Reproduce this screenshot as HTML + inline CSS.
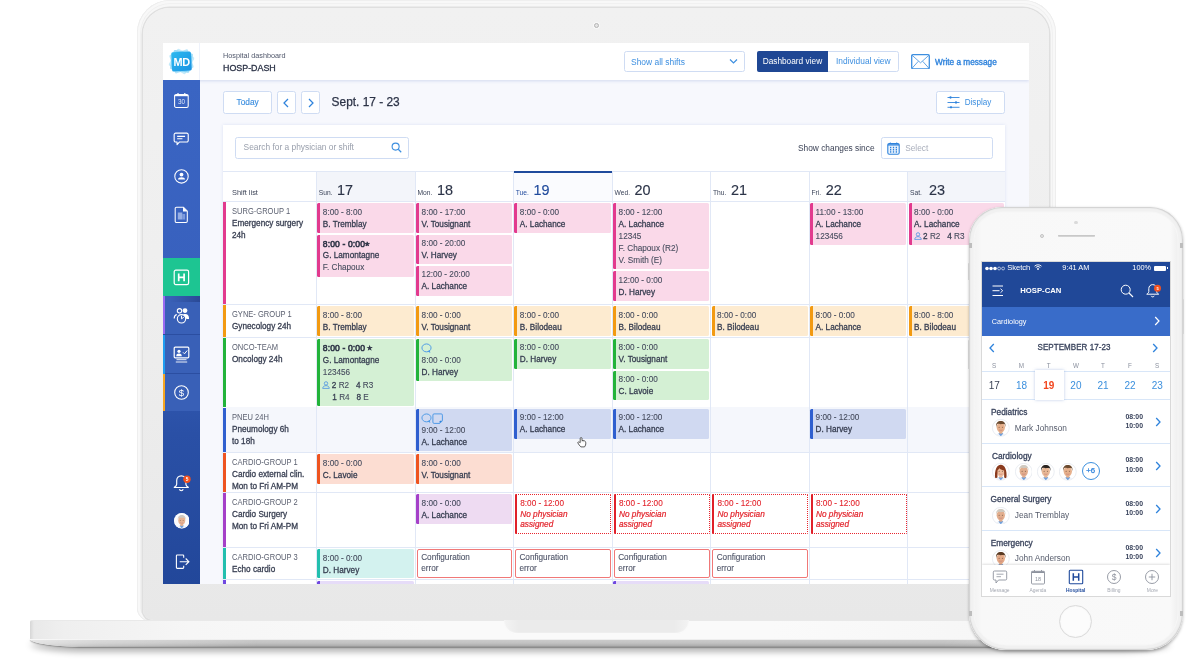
<!DOCTYPE html>
<html><head><meta charset="utf-8"><title>Hospital dashboard</title>
<style>
*{box-sizing:border-box;margin:0;padding:0}
html,body{width:1200px;height:661px;overflow:hidden;background:#fff}
body{font-family:"Liberation Sans",sans-serif;position:relative;color:#3b4256}
.abs{position:absolute}
/* laptop */
#lid{position:absolute;left:137.300px;top:0;width:918.500px;height:621px;border-radius:33px 33px 13px 13px;background:#f7f7f7;box-shadow:inset 0 0 0 .8px #ececec,inset 0 0 0 3.200px #f8f8f8,inset 0 0 0 4px #efefef}
#lid2{position:absolute;left:143.300px;top:7.600px;width:905.800px;height:612.400px;border-radius:26.500px 26.500px 10px 10px;background:linear-gradient(#f1f1f1,#efefef 40%,#e8e8e8);box-shadow:0 0 0 1.500px #dfdfdf}
#cam{position:absolute;left:594.200px;top:22.900px;width:5px;height:5px;border-radius:50%;background:#e4e4e4;border:1.300px solid #b4b4b4;box-shadow:0 0 0 1px #f8f8f8}
#base{position:absolute;left:30.200px;top:619.700px;width:1140px;height:19.600px;background:linear-gradient(90deg,#d6d6d6 0,#e9e9e9 .35%,#efefef 3%,#f6f6f6 14%,#fafafa 35%,#fafafa 65%,#f6f6f6 86%,#efefef 97%,#e2e2e2 100%);border-top:.6px solid #e9e9e9;border-radius:1.500px 1.500px 0 0;z-index:2;box-shadow:0 .8px 0 rgba(255,255,255,.9)}
#under{position:absolute;left:30.200px;top:639.300px;width:1140px;height:8.200px;background:linear-gradient(90deg,rgba(255,255,255,.55) 0,rgba(255,255,255,.3) 6%,rgba(255,255,255,0) 20%,rgba(255,255,255,0) 80%,rgba(255,255,255,.3) 94%,rgba(255,255,255,.55) 100%),linear-gradient(#cdcdcd 0,#c2c2c2 50%,#adadad 85%,#8e8e8e 100%);border-radius:0 0 62px 62px / 0 0 8.200px 8.200px;box-shadow:0 1px 1.500px rgba(0,0,0,.35),0 5px 6px rgba(0,0,0,.3);z-index:1}
#notch{z-index:3;position:absolute;left:504px;top:620px;width:184.500px;height:14px;background:linear-gradient(90deg,#f3f3f3 0,#ebebeb 8%,#ebebeb 92%,#f3f3f3 100%);border-radius:0 0 13px 13px;box-shadow:inset 0 -1px 1.500px rgba(255,255,255,.9)}
/* screen */
#screen{will-change:transform;position:absolute;left:0;top:0;width:1200px;height:661px;clip-path:inset(43.300px 171.200px 77.200px 163.300px);background:#f7f8fd}
#topbar{position:absolute;left:163px;top:43px;width:866px;height:36.700px;background:#fff;box-shadow:0 1px 3px rgba(80,110,190,.22)}
#side{position:absolute;left:163px;top:79.500px;width:36.700px;height:505px;background:linear-gradient(#3a65c3 0,#3860bd 45%,#2a50a6 70%,#22479a 100%)}
#logo{position:absolute;left:163px;top:43px;width:36.700px;height:36.500px;background:#fff}
.hl{position:absolute;left:223.250px;width:781.750px;height:1px;background:#e1e8f6}
.vl{position:absolute;top:171px;width:1px;height:420px;background:#e1e8f6}
.c{position:absolute;border-radius:1.500px;padding:3.500px 0 0 5.600px;overflow:hidden}
.l{font-size:8.200px;line-height:12px;height:12px;white-space:nowrap;color:#464c5e;-webkit-text-stroke:.1px #464c5e}
.m{color:#363d50;-webkit-text-stroke:.28px #363d50}
.b{color:#2f3547;font-size:8.600px;-webkit-text-stroke:.55px #2f3547;letter-spacing:.1px}
.st{font-size:6px;position:relative;top:-1.500px;margin-left:1.500px}
.i{font-style:italic}
.sl{position:absolute;left:232px}
.sl .code{-webkit-text-stroke:0;font-size:8.400px;color:#5b6070;transform:scaleX(.9);transform-origin:0 50%;margin-top:-1px;margin-bottom:1px}
.shl{font-size:7.400px;color:#3e4558;line-height:10px}
.dh{white-space:nowrap;line-height:20px;height:20px;color:#2c3448}
.dn{font-size:6.700px;margin-right:4.500px;color:#3c4459}
.dd{font-size:14.400px;-webkit-text-stroke:.15px}
.tue,.tue .dn{color:#1f4a9c}
.np{position:absolute;border:1px dotted #e8262f;border-left:2.250px solid #e0202a;background:#fff;padding:3px 0 0 3.500px;border-radius:1px}
.np .l{-webkit-text-stroke:.1px #e3242c;color:#e3242c;line-height:12.200px;height:12.200px}
.np .i{line-height:9.700px;height:9.700px;font-size:8.250px;-webkit-text-stroke:.2px #e3242c}
.ce{position:absolute;border:1px solid #f07878;border-radius:2px;background:#fff;padding:3.400px 0 0 3.700px}
.ce .l{line-height:10.750px;height:10.750px;color:#50566a}
.pi{width:8px;height:8px;vertical-align:-1px;margin-right:1.500px;margin-left:-.5px}
.ic{height:12.400px;line-height:0;margin-left:-1px;margin-top:.7px}
.ci{width:11px;height:11px;margin-right:.3px}
.btn{position:absolute;background:#fff;border:1px solid #cfdcf3;border-radius:2.500px;color:#3d8fe0;font-size:8.300px;text-align:center}
/* phone */
#phone{position:absolute;left:969px;top:207px;width:213.600px;height:442.800px;border-radius:33px 33px 37px 37px;background:linear-gradient(90deg,#efefef 0,#f8f8f8 6%,#f9f9f9 94%,#e9e9e9 100%);box-shadow:inset 0 0 0 1px #d4d4d4,inset 0 0 0 2px #ececec,inset 0 0 0 4.500px #f1f1f1,inset 0 0 0 5.500px #f6f6f6,inset 0 -1.500px 1px 0 #d9d9d9,0 1.500px 3px rgba(0,0,0,.28)}
#pscr{position:absolute;left:982.300px;top:262px;width:188px;height:333.700px;background:#fff;overflow:hidden;box-shadow:0 0 0 1px #d9d9d9}
.p{position:absolute}
</style></head><body>
<div id="lid"></div><div id="lid2"></div><div id="cam"></div>
<div id="under"></div><div id="base"></div><div id="notch"></div>
<div id="screen">
<!-- main content background -->
<div class="abs" style="left:223.250px;top:125.250px;width:781.750px;height:470px;background:#fff;box-shadow:0 0 3px rgba(90,120,200,.18)"></div>
<div class="abs" style="left:316.25px;top:171.5px;width:98.75px;height:30px;background:#f3f5fa"></div>
<div class="abs" style="left:907.5px;top:171.5px;width:97.5px;height:30px;background:#f3f5fa"></div>
<div class="abs" style="left:513.25px;top:171.5px;width:98.75px;height:30px;background:#fafbfe"></div>
<div class="hl" style="top:170.75px"></div>
<div class="hl" style="top:201.25px"></div>
<div class="abs" style="left:513.25px;top:170.5px;width:99.25px;height:2.25px;background:#1f4a9c"></div>
<div class="abs shl" style="left:232px;top:187.5px">Shift list</div>
<div class="abs dh" style="left:318.75px;top:180px"><span class="dn" style="">Sun.</span><span class="dd">17</span></div>
<div class="abs dh" style="left:417.50px;top:180px"><span class="dn" style="">Mon.</span><span class="dd">18</span></div>
<div class="abs dh tue" style="left:515.75px;top:180px"><span class="dn" style="">Tue.</span><span class="dd">19</span></div>
<div class="abs dh" style="left:614.50px;top:180px"><span class="dn" style="">Wed.</span><span class="dd">20</span></div>
<div class="abs dh" style="left:713.00px;top:180px"><span class="dn" style="">Thu.</span><span class="dd">21</span></div>
<div class="abs dh" style="left:811.50px;top:180px"><span class="dn" style="">Fri.</span><span class="dd">22</span></div>
<div class="abs dh" style="left:910.00px;top:180px"><span class="dn" style="margin-right:7px">Sat.</span><span class="dd">23</span></div>
<div class="abs" style="left:223.25px;top:202.25px;width:2.75px;height:102.5px;background:#e23a8e"></div>
<div class="hl" style="top:303.75px"></div>
<div class="sl" style="top:205.50px"><div class="l code">SURG-GROUP 1</div><div class="l m">Emergency surgery</div><div class="l m">24h</div></div>
<div class="abs" style="left:223.25px;top:304.75px;width:2.75px;height:32.75px;background:#f29a12"></div>
<div class="hl" style="top:336.50px"></div>
<div class="sl" style="top:309.25px"><div class="l code">GYNE- GROUP 1</div><div class="l m">Gynecology 24h</div></div>
<div class="abs" style="left:223.25px;top:337.5px;width:2.75px;height:70.0px;background:#22b33a"></div>
<div class="hl" style="top:406.50px"></div>
<div class="sl" style="top:342.00px"><div class="l code">ONCO-TEAM</div><div class="l m">Oncology 24h</div></div>
<div class="abs" style="left:223.25px;top:407.0px;width:781.75px;height:45.5px;background:#f5f7fc"></div>
<div class="abs" style="left:223.25px;top:407.5px;width:2.75px;height:45.5px;background:#2f5fcf"></div>
<div class="hl" style="top:452.00px"></div>
<div class="sl" style="top:411.75px"><div class="l code">PNEU 24H</div><div class="l m">Pneumology 6h</div><div class="l m">to 18h</div></div>
<div class="abs" style="left:223.25px;top:453.0px;width:2.75px;height:40.0px;background:#ee5420"></div>
<div class="hl" style="top:492.00px"></div>
<div class="sl" style="top:456.50px"><div class="l code">CARDIO-GROUP 1</div><div class="l m">Cardio external clin.</div><div class="l m">Mon to Fri AM-PM</div></div>
<div class="abs" style="left:223.25px;top:493.0px;width:2.75px;height:55.0px;background:#a540c8"></div>
<div class="hl" style="top:547.00px"></div>
<div class="sl" style="top:496.50px"><div class="l code">CARDIO-GROUP 2</div><div class="l m">Cardio Surgery</div><div class="l m">Mon to Fri AM-PM</div></div>
<div class="abs" style="left:223.25px;top:548.0px;width:2.75px;height:32.0px;background:#22bfae"></div>
<div class="hl" style="top:579.00px"></div>
<div class="sl" style="top:551.50px"><div class="l code">CARDIO-GROUP 3</div><div class="l m">Echo cardio</div></div>
<div class="abs" style="left:223.25px;top:580.0px;width:2.75px;height:20.5px;background:#7048e0"></div>
<div class="hl" style="top:599.50px"></div>
<div class="vl" style="left:315.75px"></div>
<div class="vl" style="left:414.50px"></div>
<div class="vl" style="left:512.75px"></div>
<div class="vl" style="left:611.50px"></div>
<div class="vl" style="left:710.00px"></div>
<div class="vl" style="left:808.50px"></div>
<div class="vl" style="left:907.00px"></div>
<div class="c" style="left:317.25px;top:203.25px;width:96.50px;height:29.75px;background:linear-gradient(90deg,#e23a8e 0,#e23a8e 2.600px,#fad9e9 2.600px)"><div class="l ">8:00 - 8:00</div><div class="l m">B. Tremblay</div></div>
<div class="c" style="left:317.25px;top:234.50px;width:96.50px;height:42.00px;background:linear-gradient(90deg,#e23a8e 0,#e23a8e 2.600px,#fad9e9 2.600px)"><div class="l b">8:00 - 0:00<span style="font-size:11.500px;line-height:0;vertical-align:-2.600px;letter-spacing:0">*</span></div><div class="l m">G. Lamontagne</div><div class="l ">F. Chapoux</div></div>
<div class="c" style="left:416.00px;top:203.25px;width:96.00px;height:29.75px;background:linear-gradient(90deg,#e23a8e 0,#e23a8e 2.600px,#fad9e9 2.600px)"><div class="l ">8:00 - 17:00</div><div class="l m">V. Tousignant</div></div>
<div class="c" style="left:416.00px;top:234.50px;width:96.00px;height:29.75px;background:linear-gradient(90deg,#e23a8e 0,#e23a8e 2.600px,#fad9e9 2.600px)"><div class="l ">8:00 - 20:00</div><div class="l m">V. Harvey</div></div>
<div class="c" style="left:416.00px;top:265.75px;width:96.00px;height:29.75px;background:linear-gradient(90deg,#e23a8e 0,#e23a8e 2.600px,#fad9e9 2.600px)"><div class="l ">12:00 - 20:00</div><div class="l m">A. Lachance</div></div>
<div class="c" style="left:514.25px;top:203.25px;width:96.50px;height:29.75px;background:linear-gradient(90deg,#e23a8e 0,#e23a8e 2.600px,#fad9e9 2.600px)"><div class="l ">8:00 - 0:00</div><div class="l m">A. Lachance</div></div>
<div class="c" style="left:613.00px;top:203.25px;width:96.25px;height:66.00px;background:linear-gradient(90deg,#e23a8e 0,#e23a8e 2.600px,#fad9e9 2.600px)"><div class="l ">8:00 - 12:00</div><div class="l m">A. Lachance</div><div class="l ">12345</div><div class="l ">F. Chapoux (R2)</div><div class="l ">V. Smith (E)</div></div>
<div class="c" style="left:613.00px;top:271.00px;width:96.25px;height:29.50px;background:linear-gradient(90deg,#e23a8e 0,#e23a8e 2.600px,#fad9e9 2.600px)"><div class="l ">12:00 - 0:00</div><div class="l m">D. Harvey</div></div>
<div class="c" style="left:810.00px;top:203.25px;width:96.25px;height:42.00px;background:linear-gradient(90deg,#e23a8e 0,#e23a8e 2.600px,#fad9e9 2.600px)"><div class="l ">11:00 - 13:00</div><div class="l m">A. Lachance</div><div class="l ">123456</div></div>
<div class="c" style="left:908.50px;top:203.25px;width:95.25px;height:42.00px;background:linear-gradient(90deg,#e23a8e 0,#e23a8e 2.600px,#fad9e9 2.600px)"><div class="l ">8:00 - 0:00</div><div class="l m">A. Lachance</div><div class="l"><svg class="pi" viewBox="0 0 8 8"><circle cx="4" cy="2.4" r="1.7" fill="none" stroke="#4a90e2" stroke-width=".8"/><path d="M.7 7.4C.9 5.4 2.2 4.7 4 4.7s3.1.7 3.3 2.700z" fill="none" stroke="#4a90e2" stroke-width=".8"/></svg><span class="m">2</span> R2 &nbsp; <span class="m">4</span> R3</div></div>
<div class="c" style="left:317.25px;top:305.75px;width:96.50px;height:30.00px;background:linear-gradient(90deg,#f29a12 0,#f29a12 2.600px,#fdebd0 2.600px);padding-top:4.25px"><div class="l ">8:00 - 8:00</div><div class="l m">B. Tremblay</div></div>
<div class="c" style="left:416.00px;top:305.75px;width:96.00px;height:30.00px;background:linear-gradient(90deg,#f29a12 0,#f29a12 2.600px,#fdebd0 2.600px);padding-top:4.25px"><div class="l ">8:00 - 0:00</div><div class="l m">V. Tousignant</div></div>
<div class="c" style="left:514.25px;top:305.75px;width:96.50px;height:30.00px;background:linear-gradient(90deg,#f29a12 0,#f29a12 2.600px,#fdebd0 2.600px);padding-top:4.25px"><div class="l ">8:00 - 0:00</div><div class="l m">B. Bilodeau</div></div>
<div class="c" style="left:613.00px;top:305.75px;width:96.25px;height:30.00px;background:linear-gradient(90deg,#f29a12 0,#f29a12 2.600px,#fdebd0 2.600px);padding-top:4.25px"><div class="l ">8:00 - 0:00</div><div class="l m">B. Bilodeau</div></div>
<div class="c" style="left:711.50px;top:305.75px;width:96.25px;height:30.00px;background:linear-gradient(90deg,#f29a12 0,#f29a12 2.600px,#fdebd0 2.600px);padding-top:4.25px"><div class="l ">8:00 - 0:00</div><div class="l m">B. Bilodeau</div></div>
<div class="c" style="left:810.00px;top:305.75px;width:96.25px;height:30.00px;background:linear-gradient(90deg,#f29a12 0,#f29a12 2.600px,#fdebd0 2.600px);padding-top:4.25px"><div class="l ">8:00 - 0:00</div><div class="l m">A. Lachance</div></div>
<div class="c" style="left:908.50px;top:305.75px;width:95.25px;height:30.00px;background:linear-gradient(90deg,#f29a12 0,#f29a12 2.600px,#fdebd0 2.600px);padding-top:4.25px"><div class="l ">8:00 - 8:00</div><div class="l m">B. Bilodeau</div></div>
<div class="c" style="left:317.25px;top:338.75px;width:96.50px;height:67.00px;background:linear-gradient(90deg,#22b33a 0,#22b33a 2.600px,#d4f0d4 2.600px)"><div class="l b" style="margin-bottom:.8px">8:00 - 0:00<span class="st">&#9733;</span></div><div class="l m">G. Lamontagne</div><div class="l ">123456</div><div class="l" style="margin-top:1px"><svg class="pi" viewBox="0 0 8 8"><circle cx="4" cy="2.4" r="1.7" fill="none" stroke="#4a90e2" stroke-width=".8"/><path d="M.7 7.4C.9 5.4 2.2 4.7 4 4.7s3.1.7 3.3 2.700z" fill="none" stroke="#4a90e2" stroke-width=".8"/></svg><span class="m">2</span> R2 &nbsp;&nbsp;<span class="m">4</span> R3</div><div class="l" style="padding-left:9.5px"><span class="m">1</span> R4 &nbsp;&nbsp;<span class="m">8</span> E</div></div>
<div class="c" style="left:416.00px;top:338.75px;width:96.00px;height:42.25px;background:linear-gradient(90deg,#22b33a 0,#22b33a 2.600px,#d4f0d4 2.600px)"><div class="ic"><svg class="ci" viewBox="0 0 11 11"><ellipse cx="5.500" cy="4.900" rx="4.550" ry="3.950" fill="none" stroke="#4a98e6" stroke-width=".95"/><path d="M6.600 8.300l2.700 1.700-.6-2.900z" fill="#4a98e6"/></svg></div><div class="l ">8:00 - 0:00</div><div class="l m">D. Harvey</div></div>
<div class="c" style="left:514.25px;top:338.75px;width:96.50px;height:30.25px;background:linear-gradient(90deg,#22b33a 0,#22b33a 2.600px,#d4f0d4 2.600px)"><div class="l ">8:00 - 0:00</div><div class="l m">D. Harvey</div></div>
<div class="c" style="left:613.00px;top:338.75px;width:96.25px;height:30.25px;background:linear-gradient(90deg,#22b33a 0,#22b33a 2.600px,#d4f0d4 2.600px)"><div class="l ">8:00 - 0:00</div><div class="l m">V. Tousignant</div></div>
<div class="c" style="left:613.00px;top:370.50px;width:96.25px;height:29.50px;background:linear-gradient(90deg,#22b33a 0,#22b33a 2.600px,#d4f0d4 2.600px)"><div class="l ">8:00 - 0:00</div><div class="l m">C. Lavoie</div></div>
<div class="c" style="left:416.00px;top:408.75px;width:96.00px;height:42.00px;background:linear-gradient(90deg,#2f5fcf 0,#2f5fcf 2.600px,#d0d9f1 2.600px)"><div class="ic"><svg class="ci" viewBox="0 0 11 11"><ellipse cx="5.500" cy="4.900" rx="4.550" ry="3.950" fill="none" stroke="#4a98e6" stroke-width=".95"/><path d="M6.600 8.300l2.700 1.700-.6-2.900z" fill="#4a98e6"/></svg><svg class="ci" viewBox="0 0 11 11"><path d="M2.100 .9h7.100a1.200 1.200 0 0 1 1.200 1.200v5.700L7.800 10.400H2.100A1.200 1.200 0 0 1 .9 9.200V2.100A1.200 1.200 0 0 1 2.100 .9z" fill="none" stroke="#4a98e6" stroke-width=".95"/><path d="M10.200 7.700L7.700 10.200V8.300a.6.600 0 0 1 .6-.6z" fill="#2f83dc"/></svg></div><div class="l ">9:00 - 12:00</div><div class="l m">A. Lachance</div></div>
<div class="c" style="left:514.25px;top:408.75px;width:96.50px;height:30.00px;background:linear-gradient(90deg,#2f5fcf 0,#2f5fcf 2.600px,#d0d9f1 2.600px)"><div class="l ">9:00 - 12:00</div><div class="l m">A. Lachance</div></div>
<div class="c" style="left:613.00px;top:408.75px;width:96.25px;height:30.00px;background:linear-gradient(90deg,#2f5fcf 0,#2f5fcf 2.600px,#d0d9f1 2.600px)"><div class="l ">9:00 - 12:00</div><div class="l m">A. Lachance</div></div>
<div class="c" style="left:810.00px;top:408.75px;width:96.25px;height:30.00px;background:linear-gradient(90deg,#2f5fcf 0,#2f5fcf 2.600px,#d0d9f1 2.600px)"><div class="l ">9:00 - 12:00</div><div class="l m">D. Harvey</div></div>
<div class="c" style="left:317.25px;top:454.00px;width:96.50px;height:29.75px;background:linear-gradient(90deg,#ee5420 0,#ee5420 2.600px,#fcddd2 2.600px)"><div class="l ">8:00 - 0:00</div><div class="l m">C. Lavoie</div></div>
<div class="c" style="left:416.00px;top:454.00px;width:96.00px;height:29.75px;background:linear-gradient(90deg,#ee5420 0,#ee5420 2.600px,#fcddd2 2.600px)"><div class="l ">8:00 - 0:00</div><div class="l m">V. Tousignant</div></div>
<div class="c" style="left:416.00px;top:494.00px;width:96.00px;height:30.25px;background:linear-gradient(90deg,#a540c8 0,#a540c8 2.600px,#eedbf2 2.600px)"><div class="l ">8:00 - 0:00</div><div class="l m">A. Lachance</div></div>
<div class="np" style="left:514.75px;top:493.75px;width:96.25px;height:40px"><div class="l">8:00 - 12:00</div><div class="l i">No physician</div><div class="l i">assigned</div></div>
<div class="np" style="left:613.50px;top:493.75px;width:96.00px;height:40px"><div class="l">8:00 - 12:00</div><div class="l i">No physician</div><div class="l i">assigned</div></div>
<div class="np" style="left:712.00px;top:493.75px;width:96.00px;height:40px"><div class="l">8:00 - 12:00</div><div class="l i">No physician</div><div class="l i">assigned</div></div>
<div class="np" style="left:810.50px;top:493.75px;width:96.00px;height:40px"><div class="l">8:00 - 12:00</div><div class="l i">No physician</div><div class="l i">assigned</div></div>
<div class="c" style="left:317.25px;top:549.00px;width:96.50px;height:29.25px;background:linear-gradient(90deg,#22bfae 0,#22bfae 2.600px,#d3f2ef 2.600px)"><div class="l ">8:00 - 0:00</div><div class="l m">D. Harvey</div></div>
<div class="ce" style="left:416.50px;top:548.75px;width:95.75px;height:28.75px"><div class="l">Configuration</div><div class="l">error</div></div>
<div class="ce" style="left:514.75px;top:548.75px;width:96.25px;height:28.75px"><div class="l">Configuration</div><div class="l">error</div></div>
<div class="ce" style="left:613.50px;top:548.75px;width:96.00px;height:28.75px"><div class="l">Configuration</div><div class="l">error</div></div>
<div class="ce" style="left:712.00px;top:548.75px;width:96.00px;height:28.75px"><div class="l">Configuration</div><div class="l">error</div></div>
<div class="c" style="left:317.25px;top:580.75px;width:96.50px;height:19.25px;background:linear-gradient(90deg,#7048e0 0,#7048e0 2.600px,#e6dcf8 2.600px)"></div>
<div class="c" style="left:613.00px;top:580.75px;width:96.25px;height:19.25px;background:linear-gradient(90deg,#7048e0 0,#7048e0 2.600px,#e6dcf8 2.600px)"></div>
<div id="topbar"></div>
<div id="side"></div>
<div id="logo"></div>
<!-- logo -->
<svg class="abs" style="left:166px;top:46px;width:31px;height:31px" viewBox="0 0 31 31">
<defs><linearGradient id="lg" x1="0" y1="0" x2="1" y2="1"><stop offset="0" stop-color="#2bb9ef"/><stop offset="1" stop-color="#1a93e3"/></linearGradient></defs>
<g transform="translate(15.500 15.400)">
<rect x="-9.700" y="-9.700" width="19.400" height="19.400" rx="1.500" fill="#8ad6f6" opacity=".5" transform="rotate(30)"/>
<rect x="-9.800" y="-9.800" width="19.600" height="19.600" rx="1.500" fill="#7fd0f5" opacity=".6" transform="rotate(-19)"/>
<rect x="-9.800" y="-9.800" width="19.600" height="19.600" rx="1.500" fill="#6ecbf4" opacity=".7" transform="rotate(12)"/>
<rect x="-9.850" y="-9.600" width="19.700" height="19.200" rx="1.600" fill="url(#lg)" transform="rotate(-3)"/>
</g>
<text x="15.700" y="19.900" text-anchor="middle" font-family="Liberation Sans" font-weight="700" font-size="10.900" fill="#fff" letter-spacing="-.2">MD</text>
</svg>
<div class="abs" style="left:199.200px;top:43px;width:1px;height:36.500px;background:#eef2fb"></div>
<!-- header text -->
<div class="abs" style="left:223px;top:51px;font-size:7.250px;line-height:10px;color:#50576b;white-space:nowrap">Hospital dashboard</div>
<div class="abs" style="left:223px;top:61.800px;font-size:8.900px;line-height:12px;color:#2c3347;white-space:nowrap;-webkit-text-stroke:.3px #2c3347">HOSP-DASH</div>
<!-- select -->
<div class="btn" style="left:624px;top:50.500px;width:120.500px;height:21.700px;text-align:left;padding-left:6px;line-height:21px;font-size:8.450px">Show all shifts
<svg class="abs" style="right:5.500px;top:6.500px;width:9px;height:7px" viewBox="0 0 9 7"><path d="M1 1.500l3.500 3.500L8 1.500" fill="none" stroke="#3d8fe0" stroke-width="1.200"/></svg></div>
<!-- toggle -->
<div class="btn" style="left:756.800px;top:50.700px;width:142px;height:21.500px"></div>
<div class="abs" style="left:756.800px;top:50.900px;width:71.200px;height:21.100px;background:#1f4794;border-radius:2px 0 0 2px;color:#fff;font-size:8.300px;line-height:20px;text-align:center">Dashboard view</div>
<div class="abs" style="left:828px;top:50.900px;width:70.500px;height:21.100px;color:#3d8fe0;font-size:8.380px;line-height:20px;text-align:center">Individual view</div>
<!-- mail -->
<svg class="abs" style="left:910.500px;top:53.800px;width:19px;height:15.500px" viewBox="0 0 19 15.500"><rect x=".7" y=".7" width="17.600" height="14.100" rx="1.200" fill="none" stroke="#3d8fe0" stroke-width="1.300"/><path d="M1 1.200l8.500 7.600L18 1.200M1 14.300l6.300-7M18 14.300l-6.300-7" fill="none" stroke="#3d8fe0" stroke-width=".8"/></svg>
<div class="abs" style="left:935px;top:56.800px;font-size:8.250px;line-height:11px;color:#2f83dc;-webkit-text-stroke:.35px #2f83dc;white-space:nowrap">Write a message</div>
<!-- toolbar -->
<div class="btn" style="left:223px;top:91px;width:49.200px;height:23px;line-height:21.400px;font-size:8.300px;-webkit-text-stroke:.15px #3d8fe0">Today</div>
<div class="btn" style="left:276.800px;top:91px;width:19px;height:23px"><svg class="abs" style="left:4.600px;top:5.500px;width:8px;height:10px" viewBox="0 0 8 10"><path d="M6 1L2 5l4 4" fill="none" stroke="#2f83dc" stroke-width="1.250"/></svg></div>
<div class="btn" style="left:301px;top:91px;width:19px;height:23px"><svg class="abs" style="left:5.300px;top:5.500px;width:8px;height:10px" viewBox="0 0 8 10"><path d="M2 1l4 4-4 4" fill="none" stroke="#2f83dc" stroke-width="1.250"/></svg></div>
<div class="abs" style="left:331.600px;top:95.300px;font-size:11.900px;line-height:14px;color:#2c3347;white-space:nowrap;-webkit-text-stroke:.25px #2c3347">Sept. 17 - 23</div>
<div class="btn" style="left:936px;top:91.300px;width:68.700px;height:22.400px;text-align:left;padding-left:27.700px;line-height:21.600px;font-size:8.150px">Display
<svg class="abs" style="left:10px;top:3.700px;width:13px;height:13px" viewBox="0 0 13 13"><path d="M.5 1.500h12M.5 6.500h12M.5 11.300h12" stroke="#2f83dc" stroke-width=".9"/><circle cx="3.500" cy="1.500" r="1.150" fill="#2f83dc"/><circle cx="9" cy="6.500" r="1.150" fill="#2f83dc"/><circle cx="4" cy="11.300" r="1.150" fill="#2f83dc"/></svg></div>
<!-- search -->
<div class="btn" style="left:235.300px;top:137px;width:173.400px;height:21.700px;text-align:left;padding-left:7.300px;line-height:19.500px;font-size:8.400px;color:#9aa0ad">Search for a physician or shift
<svg class="abs" style="right:5.800px;top:4.300px;width:11px;height:11px" viewBox="0 0 10 10"><circle cx="4.200" cy="4.200" r="3.200" fill="none" stroke="#3d8fe0" stroke-width="1"/><path d="M6.600 6.600L9.300 9.300" stroke="#3d8fe0" stroke-width="1.100"/></svg></div>
<div class="abs" style="left:798px;top:142.500px;font-size:8.350px;line-height:11px;color:#3b4256;white-space:nowrap">Show changes since</div>
<div class="btn" style="left:881px;top:137.300px;width:111.700px;height:21.500px;text-align:left;padding-left:23.200px;line-height:20.700px;font-size:8.300px;color:#a9aebb">Select
<svg class="abs" style="left:5.300px;top:3.800px;width:13px;height:13px" viewBox="0 0 13 13"><rect x=".8" y="1.600" width="11.400" height="10.600" rx="1.400" fill="#eaf3fd" stroke="#2f83dc" stroke-width="1.100"/><path d="M.8 2.900h11.400" stroke="#2f83dc" stroke-width="1.300"/><path d="M3.300 .5v1.500M9.700 .5v1.500" stroke="#2f83dc" stroke-width="1"/><g fill="#2f83dc"><rect x="3" y="4.800" width="1.300" height="1.500"/><rect x="5.850" y="4.800" width="1.300" height="1.500"/><rect x="8.700" y="4.800" width="1.300" height="1.500"/><rect x="3" y="7" width="1.300" height="1.500"/><rect x="5.850" y="7" width="1.300" height="1.500"/><rect x="8.700" y="7" width="1.300" height="1.500"/><rect x="3" y="9.200" width="1.300" height="1.500"/><rect x="5.850" y="9.200" width="1.300" height="1.500"/><rect x="8.700" y="9.200" width="1.300" height="1.500"/></g></svg></div>
<!-- cursor -->
<svg class="abs" style="left:577.300px;top:436.700px;width:9.500px;height:11px" viewBox="0 0 9.500 11"><path d="M3.200 5.700V1.500a.9.900 0 0 1 1.800 0v2.100c1.300-.4 3.700.1 3.800 2.200.1 1.600-.4 3-1.300 4.100H3.900C2.800 8.800 1.600 7.500.9 6c-.4-.9.700-1.500 1.400-.9z" fill="#fff" stroke="#2a2a2a" stroke-width=".75" stroke-linejoin="round"/><path d="M5 3.600v1.500M6.400 3.900v1.300" stroke="#777" stroke-width=".35"/></svg>
<!-- sidebar -->
<div class="abs" style="left:163px;top:295.700px;width:36.700px;height:115.700px;background:#3960b7"></div>
<div class="abs" style="left:163px;top:295.700px;width:36.700px;height:6px;background:linear-gradient(100deg,rgba(20,40,100,0) 20%,rgba(20,40,100,.45));opacity:.9"></div>
<div class="abs" style="left:163px;top:334.200px;width:36.700px;height:.8px;background:rgba(30,60,140,.5)"></div>
<div class="abs" style="left:163px;top:372.800px;width:36.700px;height:.8px;background:rgba(30,60,140,.5)"></div>
<div class="abs" style="left:163px;top:295.700px;width:2.200px;height:38.800px;background:#9a6bf2"></div>
<div class="abs" style="left:163px;top:334.500px;width:2.200px;height:39.300px;background:#1f9df1"></div>
<div class="abs" style="left:163px;top:373.800px;width:2.200px;height:37.600px;background:#f5a623"></div>
<div class="abs" style="left:163px;top:257.500px;width:36.700px;height:38.300px;background:#1dc592"></div>
<!-- icons -->
<svg class="abs" style="left:173px;top:92px;width:17px;height:17px" viewBox="0 0 17 17" fill="none" stroke="#fff"><rect x="1.600" y="2.400" width="13.600" height="13" rx="1.500" stroke-width="1.050"/><path d="M1.600 3.600h13.600" stroke-width="1.200"/><path d="M5 .9v2M11.800 .9v2" stroke-width="1.200"/><text x="8.400" y="12.300" text-anchor="middle" font-family="Liberation Sans" font-size="6.300" fill="#dfe8fa" stroke="none">30</text></svg>
<svg class="abs" style="left:173.200px;top:131.700px;width:16.400px;height:14.500px" viewBox="0 0 17 15" fill="none" stroke="#fff"><path d="M2.700 1.200h11.600a1.500 1.500 0 0 1 1.500 1.500v6.100a1.500 1.500 0 0 1-1.500 1.500H6.800L4.200 13v-2.700H2.700a1.500 1.500 0 0 1-1.500-1.500V2.700a1.500 1.500 0 0 1 1.500-1.500z" stroke-width="1.150" stroke-linejoin="round"/><path d="M4.300 4.500h8.200M4.300 7h5.500" stroke-width="1.100"/></svg>
<svg class="abs" style="left:173px;top:168px;width:17px;height:17px" viewBox="0 0 17 17"><circle cx="8.500" cy="8.400" r="6.700" fill="none" stroke="#fff" stroke-width="1.050"/><circle cx="8.500" cy="6.600" r="1.900" fill="#fff"/><path d="M5 11.600c0-1.700 1.600-2.400 3.500-2.400s3.500.7 3.500 2.400z" fill="#fff"/></svg>
<svg class="abs" style="left:174px;top:206px;width:15px;height:18px" viewBox="0 0 15 18"><path d="M2.500 1.200h6.800l4 4v10a1.300 1.300 0 0 1-1.300 1.300H2.500a1.300 1.300 0 0 1-1.300-1.300V2.500a1.300 1.300 0 0 1 1.300-1.300z" fill="none" stroke="#fff" stroke-width="1.050" stroke-linejoin="round"/><path d="M9 1.200v4.300h4.300z" fill="#fff"/><rect x="3.800" y="6.500" width="4.500" height="7" fill="#aec2ee" opacity=".8"/><rect x="8.300" y="8" width="2.800" height="5.500" fill="#8fa9e3" opacity=".8"/></svg>
<svg class="abs" style="left:173px;top:268.500px;width:17px;height:17px" viewBox="0 0 17 17"><rect x="1.200" y="1.200" width="14.400" height="14.400" rx="1.600" fill="none" stroke="#fff" stroke-width="1.200"/><path d="M5.700 4.500v7.800M11.100 4.500v7.800M5.700 8.400h5.400" stroke="#fff" stroke-width="1.700" fill="none"/></svg>
<svg class="abs" style="left:172.500px;top:307px;width:18px;height:18px" viewBox="0 0 18 18" fill="none" stroke="#fff" stroke-width="1.100"><circle cx="6.500" cy="3.800" r="2.200"/><circle cx="12" cy="3.600" r="1.900" fill="#fff"/><path d="M3.800 7.500C2 8 1.200 9.500 1.200 11.500"/><path d="M10.200 7.300c3-.9 5.700-.3 5.800 3.700v1h-2.500" fill="#fff" stroke="none"/><circle cx="8.500" cy="11.800" r="4.200"/><path d="M8.500 11.800V8.800M8.500 11.800l2.300-1.500" stroke-width="1"/></svg>
<svg class="abs" style="left:173px;top:345.500px;width:17px;height:17px" viewBox="0 0 17 17" fill="none" stroke="#fff"><rect x="1.200" y="1.200" width="14.600" height="10.600" rx="1" stroke-width="1.200"/><path d="M3.500 13.700h10" stroke-width=".9"/><path d="M2.800 16h11.400" stroke-width=".9"/><circle cx="6" cy="5.300" r="1.600" fill="#fff" stroke="none"/><path d="M3.200 10.300c0-2 1.200-2.700 2.800-2.700s2.800.7 2.800 2.700z" fill="#fff" stroke="none"/><path d="M10 6.300l1.500 1.500 2.700-3.300" stroke-width="1"/></svg>
<svg class="abs" style="left:173px;top:384.200px;width:17px;height:17px" viewBox="0 0 17 17"><circle cx="8.500" cy="8.500" r="6.800" fill="none" stroke="#fff" stroke-width="1.100"/><text x="8.500" y="12" text-anchor="middle" font-family="Liberation Sans" font-size="9.500" fill="#fff">$</text></svg>
<!-- bell -->
<svg class="abs" style="left:172px;top:473px;width:20px;height:20px" viewBox="0 0 20 20"><path d="M9.300 2.800c-2.800 0-4.600 2.100-4.600 4.800v3.600c0 1.500-1.200 2.400-2.400 3v.3h14v-.3c-1.200-.6-2.400-1.500-2.400-3V7.600c0-2.700-1.800-4.800-4.600-4.800zM7.400 16.300c.3.900 1.100 1.400 1.900 1.400s1.600-.5 1.900-1.400" fill="none" stroke="#fff" stroke-width="1.150" stroke-linejoin="round"/><circle cx="15" cy="6.200" r="3.700" fill="#f4511e"/><text x="15" y="8" text-anchor="middle" font-family="Liberation Sans" font-size="4.800" font-weight="700" fill="#fff">5</text></svg>
<!-- avatar -->
<svg class="abs" style="left:173.800px;top:513.300px;width:15.500px;height:15.500px" viewBox="0 0 20 20"><defs><clipPath id="avc"><circle cx="10" cy="10" r="9.700"/></clipPath></defs><circle cx="10" cy="10" r="10" fill="#fff"/><g clip-path="url(#avc)"><rect width="20" height="20" fill="#fbfbfd"/><path d="M2.500 21c0-3.300 3-4.800 7.500-4.800s7.500 1.500 7.500 4.800z" fill="#eef2f9"/><path d="M7.300 16.500L10 20l2.700-3.500-1.200-.8h-3z" fill="#6fa0dc"/><rect x="8.300" y="13" width="3.400" height="3.600" fill="#e3ad8c"/><ellipse cx="10" cy="9.500" rx="4.500" ry="5.700" fill="#e7b493"/><ellipse cx="8.200" cy="9.400" rx=".7" ry=".5" fill="#4a3428" opacity=".7"/><ellipse cx="11.800" cy="9.400" rx=".7" ry=".5" fill="#4a3428" opacity=".7"/><path d="M8.300 12.500c.9.800 2.500.8 3.400 0-.6.300-2.800.3-3.400 0z" fill="#fff" stroke="#b8655a" stroke-width=".35"/><path d="M5 9.300C4.300 4.300 7 2.500 10 2.500s5.700 1.800 5 6.800c-.3-1.800-.7-3-1.400-3.500-1.200.5-6 .5-7.200 0-.7.500-1.100 1.700-1.400 3.500z" fill="#cfcac4"/></g></svg>
<!-- logout -->
<svg class="abs" style="left:174px;top:552.500px;width:17px;height:17px" viewBox="0 0 17 17" fill="none" stroke="#fff" stroke-width="1.100"><path d="M9.700 4.700V2.800a.8.800 0 0 0-.8-.8H3.200a.8.800 0 0 0-.8.800v11.800a.8.800 0 0 0 .8.800h5.700a.8.800 0 0 0 .8-.8v-1.900" stroke-linejoin="round"/><path d="M5.700 8.700h9.200M11.700 5.500l3.200 3.200-3.200 3.200"/></svg>

</div>
<div class="abs" style="left:0;top:0;z-index:5;will-change:transform">
<div id="phone"></div>
<div class="abs" style="left:969px;top:242.500px;width:3px;height:5.500px;background:#bdbdbd"></div>
<div class="abs" style="left:1179.700px;top:242.500px;width:3px;height:5.500px;background:#bdbdbd"></div>
<div class="abs" style="left:969px;top:611px;width:3px;height:5.300px;background:#bdbdbd"></div>
<div class="abs" style="left:1179.700px;top:611px;width:3px;height:5.300px;background:#bdbdbd"></div>
<div class="abs" style="left:967.700px;top:263px;width:1.500px;height:17px;background:#cdcdcd;border-radius:1px"></div>
<div class="abs" style="left:967.700px;top:340px;width:1.500px;height:28.500px;background:#cdcdcd;border-radius:1px"></div>
<div class="abs" style="left:1182.600px;top:299px;width:1.400px;height:35px;background:#d6d6d6;border-radius:1px"></div>
<div class="abs" style="left:1057.800px;top:235px;width:37.500px;height:2.200px;border-radius:2px;background:#d4d4d4;box-shadow:inset 0 .5px .5px #bbb"></div>
<div class="abs" style="left:1039.600px;top:233.700px;width:4.800px;height:4.800px;border-radius:50%;background:#e6e6e6;border:1px solid #c4c4c4"></div>
<div class="abs" style="left:1074.400px;top:220.700px;width:3.200px;height:3.200px;border-radius:50%;background:#dadada"></div>
<div class="abs" style="left:1059.200px;top:604.600px;width:33px;height:33px;border-radius:50%;background:#fcfcfc;border:1px solid #dadada;box-shadow:inset 0 0 2px rgba(0,0,0,.06)"></div>
<div id="pscr">
<div class="p" style="left:0;top:0;width:188px;height:45px;background:#204898"></div>
<svg class="p" style="left:3px;top:3.800px;width:21px;height:5px" viewBox="0 0 21 5"><circle cx="2" cy="2.500" r="1.800" fill="#fff"/><circle cx="6" cy="2.500" r="1.800" fill="#fff"/><circle cx="10" cy="2.500" r="1.800" fill="#fff"/><circle cx="14.100" cy="2.500" r="1.450" fill="none" stroke="#fff" stroke-width=".6"/><circle cx="18.100" cy="2.500" r="1.450" fill="none" stroke="#fff" stroke-width=".6"/></svg>
<div class="p" style="left:25px;top:1.600px;font-size:7.600px;line-height:8px;color:#fff;white-space:nowrap;letter-spacing:-.05px">Sketch</div>
<svg class="p" style="left:51.500px;top:2.300px;width:8px;height:6px" viewBox="0 0 8 6"><path d="M.5 2.200a5 5 0 0 1 7 0M1.700 3.500a3.300 3.300 0 0 1 4.600 0" fill="none" stroke="#fff" stroke-width=".9"/><circle cx="4" cy="5" r=".9" fill="#fff"/></svg>
<div class="p" style="left:80px;top:1.600px;font-size:7.400px;line-height:8px;color:#fff;white-space:nowrap">9:41 AM</div>
<div class="p" style="left:150px;top:1.600px;font-size:7.350px;line-height:8px;color:#fff;white-space:nowrap">100%</div>
<div class="p" style="left:171.500px;top:4px;width:12.500px;height:4.800px;background:#fff;border-radius:1px"></div><div class="p" style="left:184.300px;top:5.300px;width:1.200px;height:2.200px;background:#fff"></div>
<svg class="p" style="left:9.500px;top:22.500px;width:12px;height:12px" viewBox="0 0 12 12"><path d="M.5 1h10.500M.5 5.700h7M.5 10.500h10.500" stroke="#fff" stroke-width="1"/><path d="M8.500 3.700l2.200 2-2.200 2" fill="none" stroke="#fff" stroke-width=".9"/></svg>
<div class="p" style="left:38px;top:23px;font-size:7.700px;line-height:11px;color:#fff;font-weight:700;white-space:nowrap">HOSP-CAN</div>
<svg class="p" style="left:138px;top:21.500px;width:14px;height:14px" viewBox="0 0 14 14"><circle cx="5.700" cy="5.700" r="4.500" fill="none" stroke="#fff" stroke-width="1"/><path d="M9 9l4 4" stroke="#fff" stroke-width="1.100"/></svg>
<svg class="p" style="left:163px;top:20px;width:17px;height:17px" viewBox="0 0 17 17"><path d="M7.700 2.600c-2.400 0-3.900 1.800-3.900 4v2.900c0 1.200-1 2-2 2.500v.2h11.800V12c-1-.5-2-1.300-2-2.500V6.600c0-2.200-1.500-4-3.900-4zM6.200 13.800c.2.800.9 1.100 1.500 1.100s1.300-.3 1.500-1.100" fill="none" stroke="#fff" stroke-width="1" stroke-linejoin="round"/><circle cx="12.500" cy="6.200" r="3.500" fill="#f4511e"/><text x="12.500" y="7.700" text-anchor="middle" font-family="Liberation Sans" font-size="4" font-weight="700" fill="#fff">5</text></svg>
<div class="p" style="left:0;top:44.800px;width:188px;height:29.500px;background:#396cc9"></div>
<div class="p" style="left:9.500px;top:54.700px;font-size:7.250px;line-height:10px;color:#fff;white-space:nowrap">Cardiology</div>
<svg class="p" style="left:172px;top:54px;width:6px;height:10px" viewBox="0 0 6 10"><path d="M1.200 1L5 5 1.200 9" fill="none" stroke="#fff" stroke-width="1.200"/></svg>
<div class="p" style="left:-2.700px;top:80px;width:188px;text-align:center;font-size:8.600px;transform:scaleX(.935);line-height:11px;color:#39435c;white-space:nowrap;-webkit-text-stroke:.3px #39435c;letter-spacing:.05px">SEPTEMBER 17-23</div>
<svg class="p" style="left:7px;top:80.500px;width:6px;height:10px" viewBox="0 0 6 10"><path d="M4.800 1L1 5l3.800 4" fill="none" stroke="#2f83dc" stroke-width="1.300"/></svg>
<svg class="p" style="left:170px;top:80.500px;width:6px;height:10px" viewBox="0 0 6 10"><path d="M1.200 1L5 5 1.200 9" fill="none" stroke="#2f83dc" stroke-width="1.300"/></svg>
<div class="p" style="left:1.90px;top:98.70px;width:20px;text-align:center;font-size:6.300px;line-height:9px;color:#8a909e">S</div>
<div class="p" style="left:29.20px;top:98.70px;width:20px;text-align:center;font-size:6.300px;line-height:9px;color:#8a909e">M</div>
<div class="p" style="left:56.40px;top:98.70px;width:20px;text-align:center;font-size:6.300px;line-height:9px;color:#8a909e">T</div>
<div class="p" style="left:83.60px;top:98.70px;width:20px;text-align:center;font-size:6.300px;line-height:9px;color:#8a909e">W</div>
<div class="p" style="left:110.70px;top:98.70px;width:20px;text-align:center;font-size:6.300px;line-height:9px;color:#8a909e">T</div>
<div class="p" style="left:137.70px;top:98.70px;width:20px;text-align:center;font-size:6.300px;line-height:9px;color:#8a909e">F</div>
<div class="p" style="left:164.90px;top:98.70px;width:20px;text-align:center;font-size:6.300px;line-height:9px;color:#8a909e">S</div>
<div class="p" style="left:0;top:109.20px;width:188px;height:1px;background:#d8e6f8"></div>
<div class="p" style="left:0;top:136.50px;width:188px;height:1px;background:#d8e6f8"></div>
<div class="p" style="left:52.30px;top:108.40px;width:29.500px;height:29.500px;background:#fff;box-shadow:0 0 3px rgba(70,110,190,.35)"></div>
<div class="p" style="left:-0.10px;top:117.30px;width:24px;text-align:center;font-size:10px;line-height:14px;color:#3c4356;">17</div>
<div class="p" style="left:27.20px;top:117.30px;width:24px;text-align:center;font-size:10px;line-height:14px;color:#3b8fdd;">18</div>
<div class="p" style="left:54.40px;top:117.30px;width:24px;text-align:center;font-size:10px;line-height:14px;color:#f2451d;font-weight:700;">19</div>
<div class="p" style="left:81.60px;top:117.30px;width:24px;text-align:center;font-size:10px;line-height:14px;color:#3b8fdd;">20</div>
<div class="p" style="left:108.70px;top:117.30px;width:24px;text-align:center;font-size:10px;line-height:14px;color:#3b8fdd;">21</div>
<div class="p" style="left:135.70px;top:117.30px;width:24px;text-align:center;font-size:10px;line-height:14px;color:#3b8fdd;">22</div>
<div class="p" style="left:162.90px;top:117.30px;width:24px;text-align:center;font-size:10px;line-height:14px;color:#3b8fdd;">23</div>
<div class="p" style="left:8.70px;top:144.70px;font-size:8.300px;line-height:11px;color:#39435c;white-space:nowrap;-webkit-text-stroke:.3px #39435c">Pediatrics</div>
<svg class="p" style="left:9.80px;top:157.40px;width:17.6px;height:17.6px" viewBox="0 0 20 20"><circle cx="10" cy="10" r="9.600" fill="#fff" stroke="#dde1ea" stroke-width=".7"/><clipPath id="pa1"><circle cx="10" cy="10" r="9.200"/></clipPath><g clip-path="url(#pa1)"><path d="M2.500 21c0-3.300 3-4.800 7.500-4.800s7.500 1.500 7.500 4.800z" fill="#eef2f9"/><path d="M7.300 16.500L10 20l2.700-3.500-1.200-.8h-3z" fill="#6fa0dc"/><rect x="8.300" y="13" width="3.400" height="3.600" fill="#e6b08c"/><ellipse cx="10" cy="9.500" rx="4.700" ry="5.900" fill="#e6b08c"/><ellipse cx="8.100" cy="9.400" rx=".75" ry=".5" fill="#4a3428" opacity=".75"/><ellipse cx="11.900" cy="9.400" rx=".75" ry=".5" fill="#4a3428" opacity=".75"/><path d="M8.200 12.500c.9.900 2.700.9 3.600 0-.6.300-3 .3-3.600 0z" fill="#fff" stroke="#b8655a" stroke-width=".35"/><path d="M4.700 9.300C4 4.300 6.800 2.300 10 2.300s6 2 5.300 7c-.3-1.800-.8-3.300-1.500-3.800-1.200.5-6.400.5-7.600 0-.7.500-1.200 2-1.500 3.800z" fill="#6b4a2f"/></g></svg>
<div class="p" style="left:32.50px;top:161.10px;font-size:8.300px;line-height:11px;color:#555b6b;white-space:nowrap">Mark Johnson</div>
<div class="p" style="left:143.10px;top:149.50px;font-size:6.900px;line-height:9.500px;color:#39435c;font-weight:700;white-space:nowrap">08:00<br>10:00</div>
<svg class="p" style="left:172.30px;top:154.90px;width:6px;height:10px" viewBox="0 0 6 10"><path d="M1.200 1L5 5 1.200 9" fill="none" stroke="#2f83dc" stroke-width="1.300"/></svg>
<div class="p" style="left:0;top:180.50px;width:188px;height:1px;background:#d8e6f8"></div>
<div class="p" style="left:9.70px;top:188.70px;font-size:8.300px;line-height:11px;color:#39435c;white-space:nowrap;-webkit-text-stroke:.3px #39435c">Cardiology</div>
<svg class="p" style="left:9.80px;top:201.10px;width:17.6px;height:17.6px" viewBox="0 0 20 20"><circle cx="10" cy="10" r="9.600" fill="#fff" stroke="#dde1ea" stroke-width=".7"/><clipPath id="pa2"><circle cx="10" cy="10" r="9.200"/></clipPath><g clip-path="url(#pa2)"><path d="M2.500 21c0-3.300 3-4.800 7.500-4.800s7.500 1.500 7.500 4.800z" fill="#eef2f9"/><path d="M7.300 16.500L10 20l2.700-3.500-1.200-.8h-3z" fill="#6fa0dc"/><rect x="8.300" y="13" width="3.400" height="3.600" fill="#eebd9e"/><ellipse cx="10" cy="9.500" rx="4.700" ry="5.900" fill="#eebd9e"/><ellipse cx="8.100" cy="9.400" rx=".75" ry=".5" fill="#4a3428" opacity=".75"/><ellipse cx="11.900" cy="9.400" rx=".75" ry=".5" fill="#4a3428" opacity=".75"/><path d="M8.200 12.500c.9.900 2.700.9 3.600 0-.6.300-3 .3-3.600 0z" fill="#fff" stroke="#b8655a" stroke-width=".35"/><path d="M3.600 17.500C2.600 8 5.500 2 10 2s7.400 6 6.400 15.500l-2.600-1V8.500c-1.800-.2-4-1-5.300-2.500-.8 1-2.300 2.300-2.300 2.800v7.700z" fill="#8a3b1e"/></g></svg>
<svg class="p" style="left:32.25px;top:201.10px;width:17.6px;height:17.6px" viewBox="0 0 20 20"><circle cx="10" cy="10" r="9.600" fill="#fff" stroke="#dde1ea" stroke-width=".7"/><clipPath id="pa3"><circle cx="10" cy="10" r="9.200"/></clipPath><g clip-path="url(#pa3)"><path d="M2.500 21c0-3.300 3-4.800 7.500-4.800s7.500 1.500 7.500 4.800z" fill="#eef2f9"/><path d="M7.300 16.500L10 20l2.700-3.500-1.200-.8h-3z" fill="#6fa0dc"/><rect x="8.300" y="13" width="3.400" height="3.600" fill="#e2ae8e"/><ellipse cx="10" cy="9.500" rx="4.700" ry="5.900" fill="#e2ae8e"/><ellipse cx="8.100" cy="9.400" rx=".75" ry=".5" fill="#4a3428" opacity=".75"/><ellipse cx="11.900" cy="9.400" rx=".75" ry=".5" fill="#4a3428" opacity=".75"/><path d="M8.200 12.500c.9.900 2.700.9 3.600 0-.6.300-3 .3-3.600 0z" fill="#fff" stroke="#b8655a" stroke-width=".35"/><path d="M4.700 9.300C4 4.300 6.800 2.300 10 2.300s6 2 5.300 7c-.3-1.800-.8-3.300-1.500-3.800-1.200.5-6.400.5-7.600 0-.7.500-1.200 2-1.500 3.800z" fill="#cfc9c0"/></g></svg>
<svg class="p" style="left:54.70px;top:201.10px;width:17.6px;height:17.6px" viewBox="0 0 20 20"><circle cx="10" cy="10" r="9.600" fill="#fff" stroke="#dde1ea" stroke-width=".7"/><clipPath id="pa4"><circle cx="10" cy="10" r="9.200"/></clipPath><g clip-path="url(#pa4)"><path d="M2.500 21c0-3.300 3-4.800 7.500-4.800s7.500 1.500 7.500 4.800z" fill="#eef2f9"/><path d="M7.300 16.500L10 20l2.700-3.500-1.200-.8h-3z" fill="#6fa0dc"/><rect x="8.300" y="13" width="3.400" height="3.600" fill="#e8b896"/><ellipse cx="10" cy="9.500" rx="4.700" ry="5.900" fill="#e8b896"/><ellipse cx="8.100" cy="9.400" rx=".75" ry=".5" fill="#4a3428" opacity=".75"/><ellipse cx="11.900" cy="9.400" rx=".75" ry=".5" fill="#4a3428" opacity=".75"/><path d="M8.200 12.500c.9.900 2.700.9 3.600 0-.6.300-3 .3-3.600 0z" fill="#fff" stroke="#b8655a" stroke-width=".35"/><path d="M4.700 9.300C4 4.300 6.800 2.300 10 2.300s6 2 5.300 7c-.3-1.800-.8-3.300-1.500-3.800-1.200.5-6.400.5-7.600 0-.7.500-1.200 2-1.500 3.800z" fill="#2a2320"/></g></svg>
<svg class="p" style="left:77.15px;top:201.10px;width:17.6px;height:17.6px" viewBox="0 0 20 20"><circle cx="10" cy="10" r="9.600" fill="#fff" stroke="#dde1ea" stroke-width=".7"/><clipPath id="pa5"><circle cx="10" cy="10" r="9.200"/></clipPath><g clip-path="url(#pa5)"><path d="M2.500 21c0-3.300 3-4.800 7.500-4.800s7.500 1.500 7.500 4.800z" fill="#eef2f9"/><path d="M7.300 16.500L10 20l2.700-3.500-1.200-.8h-3z" fill="#6fa0dc"/><rect x="8.300" y="13" width="3.400" height="3.600" fill="#e6b08c"/><ellipse cx="10" cy="9.500" rx="4.700" ry="5.900" fill="#e6b08c"/><ellipse cx="8.100" cy="9.400" rx=".75" ry=".5" fill="#4a3428" opacity=".75"/><ellipse cx="11.900" cy="9.400" rx=".75" ry=".5" fill="#4a3428" opacity=".75"/><path d="M8.200 12.500c.9.900 2.700.9 3.600 0-.6.300-3 .3-3.600 0z" fill="#fff" stroke="#b8655a" stroke-width=".35"/><path d="M4.700 9.300C4 4.300 6.800 2.300 10 2.300s6 2 5.300 7c-.3-1.800-.8-3.300-1.500-3.800-1.200.5-6.400.5-7.600 0-.7.500-1.200 2-1.500 3.800z" fill="#6b4a2f"/></g></svg>
<div class="p" style="left:99.40px;top:200.40px;width:18px;height:18px;border:1px solid #3b8fdd;border-radius:50%;font-size:7.800px;line-height:16px;text-align:center;color:#2f83dc;-webkit-text-stroke:.25px #2f83dc">+6</div>
<div class="p" style="left:143.10px;top:193.30px;font-size:6.900px;line-height:9.500px;color:#39435c;font-weight:700;white-space:nowrap">08:00<br>10:00</div>
<svg class="p" style="left:172.30px;top:198.50px;width:6px;height:10px" viewBox="0 0 6 10"><path d="M1.200 1L5 5 1.200 9" fill="none" stroke="#2f83dc" stroke-width="1.300"/></svg>
<div class="p" style="left:0;top:224.10px;width:188px;height:1px;background:#d8e6f8"></div>
<div class="p" style="left:8.30px;top:231.70px;font-size:8.300px;line-height:11px;color:#39435c;white-space:nowrap;-webkit-text-stroke:.3px #39435c">General Surgery</div>
<svg class="p" style="left:9.80px;top:244.50px;width:17.6px;height:17.6px" viewBox="0 0 20 20"><circle cx="10" cy="10" r="9.600" fill="#fff" stroke="#dde1ea" stroke-width=".7"/><clipPath id="pa6"><circle cx="10" cy="10" r="9.200"/></clipPath><g clip-path="url(#pa6)"><path d="M2.500 21c0-3.300 3-4.800 7.500-4.800s7.500 1.500 7.500 4.800z" fill="#eef2f9"/><path d="M7.300 16.500L10 20l2.700-3.500-1.200-.8h-3z" fill="#6fa0dc"/><rect x="8.300" y="13" width="3.400" height="3.600" fill="#e2ae8e"/><ellipse cx="10" cy="9.500" rx="4.700" ry="5.900" fill="#e2ae8e"/><ellipse cx="8.100" cy="9.400" rx=".75" ry=".5" fill="#4a3428" opacity=".75"/><ellipse cx="11.900" cy="9.400" rx=".75" ry=".5" fill="#4a3428" opacity=".75"/><path d="M8.200 12.500c.9.900 2.700.9 3.600 0-.6.300-3 .3-3.600 0z" fill="#fff" stroke="#b8655a" stroke-width=".35"/><path d="M4.700 9.300C4 4.300 6.800 2.300 10 2.300s6 2 5.300 7c-.3-1.800-.8-3.300-1.500-3.800-1.200.5-6.400.5-7.600 0-.7.500-1.200 2-1.500 3.800z" fill="#cfc9c0"/></g></svg>
<div class="p" style="left:32.50px;top:248.20px;font-size:8.300px;line-height:11px;color:#555b6b;white-space:nowrap">Jean Tremblay</div>
<div class="p" style="left:143.10px;top:236.90px;font-size:6.900px;line-height:9.500px;color:#39435c;font-weight:700;white-space:nowrap">08:00<br>10:00</div>
<svg class="p" style="left:172.30px;top:242.00px;width:6px;height:10px" viewBox="0 0 6 10"><path d="M1.200 1L5 5 1.200 9" fill="none" stroke="#2f83dc" stroke-width="1.300"/></svg>
<div class="p" style="left:0;top:268.10px;width:188px;height:1px;background:#d8e6f8"></div>
<div class="p" style="left:8.50px;top:275.70px;font-size:8.300px;line-height:11px;color:#39435c;white-space:nowrap;-webkit-text-stroke:.3px #39435c">Emergency</div>
<svg class="p" style="left:9.80px;top:287.70px;width:17.6px;height:17.6px" viewBox="0 0 20 20"><circle cx="10" cy="10" r="9.600" fill="#fff" stroke="#dde1ea" stroke-width=".7"/><clipPath id="pa7"><circle cx="10" cy="10" r="9.200"/></clipPath><g clip-path="url(#pa7)"><path d="M2.500 21c0-3.300 3-4.800 7.500-4.800s7.500 1.500 7.500 4.800z" fill="#eef2f9"/><path d="M7.300 16.500L10 20l2.700-3.500-1.200-.8h-3z" fill="#6fa0dc"/><rect x="8.300" y="13" width="3.400" height="3.600" fill="#e3a987"/><ellipse cx="10" cy="9.500" rx="4.700" ry="5.900" fill="#e3a987"/><ellipse cx="8.100" cy="9.400" rx=".75" ry=".5" fill="#4a3428" opacity=".75"/><ellipse cx="11.900" cy="9.400" rx=".75" ry=".5" fill="#4a3428" opacity=".75"/><path d="M8.200 12.500c.9.900 2.700.9 3.600 0-.6.300-3 .3-3.600 0z" fill="#fff" stroke="#b8655a" stroke-width=".35"/><path d="M4.700 9.300C4 4.300 6.800 2.300 10 2.300s6 2 5.300 7c-.3-1.800-.8-3.300-1.500-3.800-1.200.5-6.400.5-7.600 0-.7.500-1.200 2-1.500 3.800z" fill="#5a3a22"/></g></svg>
<div class="p" style="left:32.50px;top:291.40px;font-size:8.300px;line-height:11px;color:#555b6b;white-space:nowrap">John Anderson</div>
<div class="p" style="left:143.10px;top:280.60px;font-size:6.900px;line-height:9.500px;color:#39435c;font-weight:700;white-space:nowrap">08:00<br>10:00</div>
<svg class="p" style="left:172.30px;top:286.00px;width:6px;height:10px" viewBox="0 0 6 10"><path d="M1.200 1L5 5 1.200 9" fill="none" stroke="#2f83dc" stroke-width="1.300"/></svg>
<div class="p" style="left:0;top:312.50px;width:188px;height:1px;background:#d8e6f8"></div>
<div class="p" style="left:0;top:302.80px;width:188px;height:31px;background:#fff;box-shadow:0 -1px 2px rgba(0,0,0,.12)"></div>
<div class="p" style="left:2.40px;top:324.60px;width:30px;text-align:center;font-size:4.900px;line-height:7px;color:#a4a8b2;">Message</div>
<div class="p" style="left:40.60px;top:324.60px;width:30px;text-align:center;font-size:4.900px;line-height:7px;color:#a4a8b2;">Agenda</div>
<div class="p" style="left:78.40px;top:324.60px;width:30px;text-align:center;font-size:4.900px;line-height:7px;color:#1f4a9c;font-weight:700;">Hospital</div>
<div class="p" style="left:116.60px;top:324.60px;width:30px;text-align:center;font-size:4.900px;line-height:7px;color:#a4a8b2;">Billing</div>
<div class="p" style="left:155.10px;top:324.60px;width:30px;text-align:center;font-size:4.900px;line-height:7px;color:#a4a8b2;">More</div>
<svg class="p" style="left:9.40px;top:307.00px;width:16px;height:16px" viewBox="0 0 16 16" fill="none" stroke="#8d929d" stroke-width=".9"><path d="M2.500 2h11a1.200 1.200 0 0 1 1.200 1.200v6.600a1.200 1.200 0 0 1-1.200 1.200H6.500L4 14v-3H2.500a1.200 1.200 0 0 1-1.200-1.200V3.200A1.200 1.200 0 0 1 2.500 2z" stroke-linejoin="round"/><path d="M4.500 5.200h7M4.500 7.700h4.500" stroke-width=".8"/></svg>
<svg class="p" style="left:47.60px;top:307.00px;width:16px;height:16px" viewBox="0 0 16 16" fill="none" stroke="#8d929d" stroke-width=".9"><rect x="1.500" y="2.300" width="13" height="12.700" rx="1"/><path d="M1.500 3.200h13" stroke-width="1.600"/><path d="M4.500 1v1.500M11.500 1v1.500"/><text x="8" y="11.800" text-anchor="middle" font-family="Liberation Sans" font-size="5.500" fill="#8d929d" stroke="none">18</text></svg>
<svg class="p" style="left:85.40px;top:307.00px;width:16px;height:16px" viewBox="0 0 16 16" fill="none" stroke="#1f4a9c"><rect x="1.300" y="1.300" width="13.400" height="13.400" rx=".8" stroke-width="1.100"/><path d="M5.300 4.300v7.400M10.700 4.300v7.400M5.300 8h5.400" stroke-width="1.500"/></svg>
<svg class="p" style="left:123.60px;top:307.00px;width:16px;height:16px" viewBox="0 0 16 16" fill="none" stroke="#8d929d" stroke-width=".9"><circle cx="8" cy="8" r="6.500"/><text x="8" y="11.200" text-anchor="middle" font-family="Liberation Sans" font-size="8.500" fill="#8d929d" stroke="none">$</text></svg>
<svg class="p" style="left:162.10px;top:307.00px;width:16px;height:16px" viewBox="0 0 16 16" fill="none" stroke="#8d929d" stroke-width=".9"><circle cx="8" cy="8" r="6.500"/><path d="M8 4.800v6.400M4.800 8h6.400"/></svg>
</div>
</div>
</body></html>
